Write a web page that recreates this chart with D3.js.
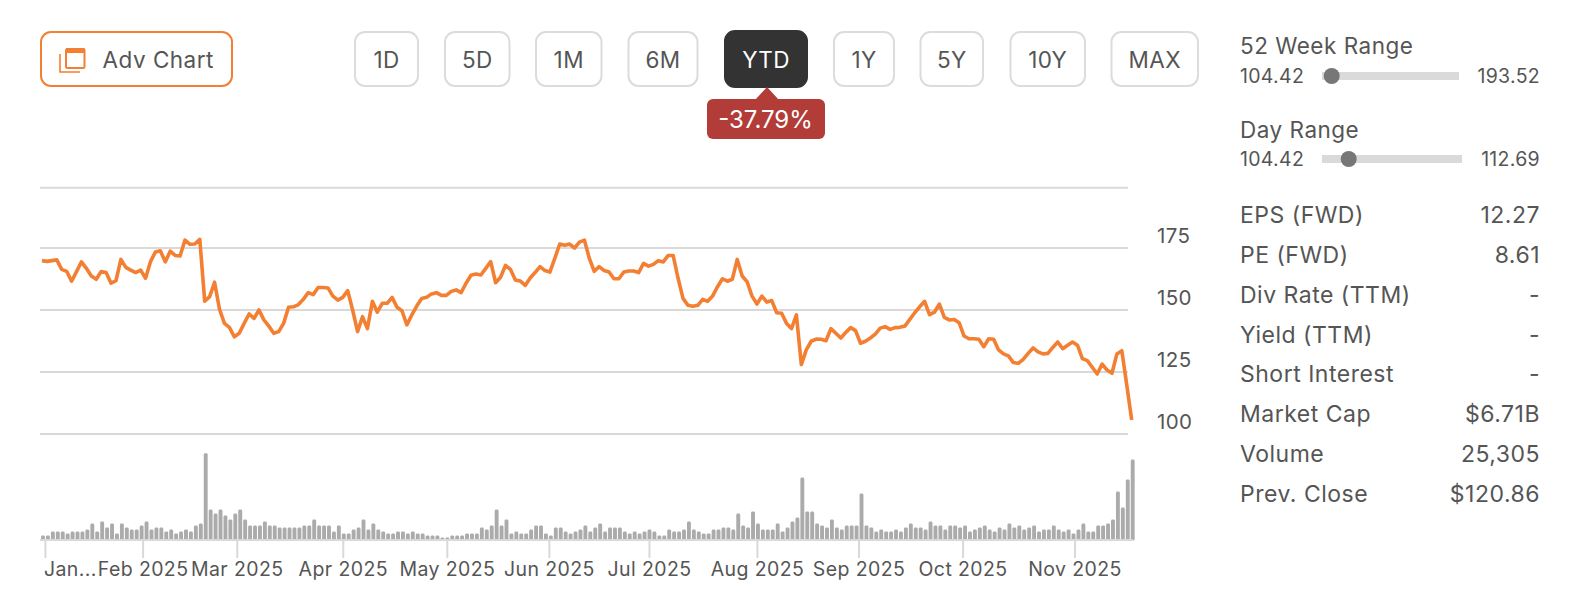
<!DOCTYPE html>
<html><head><meta charset="utf-8">
<script src="https://cdn.jsdelivr.net/npm/d3@7"></script>
<style>
html,body{margin:0;padding:0;background:#fff}
svg{display:block}
text{font-family:Inter,"Noto Sans",sans-serif;fill:#555}
</style></head><body>
<svg id="c" width="1572" height="608"></svg>
<script>
const closes = [169.9,169.6,169.9,170.2,166.4,165.6,161.6,165.5,169.4,166.8,163.7,162.4,165.5,165.1,160.8,161.8,170.4,167.2,166.1,165.1,
166.1,162.8,169.5,173.4,173.9,169.4,173.7,172.0,171.8,178.2,176.5,176.6,178.5,153.5,155.4,161.2,150.3,144.6,143.0,139.2,
140.6,144.6,148.4,146.6,150.0,146.0,143.5,140.6,141.3,144.6,151.1,151.3,152.2,154.3,157.0,156.2,159.1,159.1,158.9,155.6,
154.0,155.1,157.8,150.0,141.3,147.3,142.5,153.5,149.1,152.7,152.7,155.1,151.1,149.7,144.0,148.0,151.6,154.6,155.1,156.5,
157.0,155.9,155.9,157.5,158.1,157.0,160.8,164.0,164.5,164.1,166.8,169.5,161.0,163.2,168.0,166.4,162.1,161.7,159.9,162.9,
165.1,167.5,165.9,165.3,170.8,176.6,176.1,176.6,175.0,177.4,178.2,170.8,165.6,167.5,165.9,165.3,162.6,162.6,165.3,165.7,
165.7,165.1,168.8,167.7,168.4,169.9,169.4,172.0,172.0,162.8,154.7,151.9,151.5,151.9,154.3,153.5,155.6,159.4,162.6,161.6,
162.4,170.4,163.7,161.4,155.6,152.4,155.6,153.2,153.8,148.9,148.7,144.6,142.5,148.0,128.0,133.9,137.4,138.3,138.2,137.6,
142.5,140.6,138.7,140.9,142.9,141.7,136.6,137.4,138.7,140.3,142.7,143.3,142.2,142.9,143.0,143.5,146.2,148.9,151.3,153.5,
148.1,149.1,152.4,147.0,146.0,146.2,144.9,139.5,138.4,138.4,138.2,135.2,138.4,138.2,133.9,132.3,131.5,128.8,128.5,130.1,
132.5,134.7,133.1,132.3,132.5,134.9,137.1,134.4,135.8,137.1,135.8,130.4,129.6,126.9,124.2,128.2,125.8,124.5,132.3,133.6,
119.8,105.6];
const volumes = [12,12,24,24,24,18,24,24,24,30,48,24,54,36,48,18,48,36,30,30,
42,54,30,36,36,24,30,18,24,30,24,42,48,259,90,78,90,72,60,78,
90,60,42,42,42,54,42,42,36,36,36,36,36,42,42,60,42,42,42,24,
42,18,18,30,36,60,30,48,30,24,18,18,24,24,18,24,18,18,12,12,
12,6,6,12,12,12,18,18,18,36,30,42,90,42,60,18,24,18,18,30,
42,42,18,12,36,36,24,18,24,30,42,24,36,48,24,36,36,36,24,18,
24,18,24,30,24,12,12,30,24,24,30,54,30,24,18,18,30,30,36,36,
30,78,42,36,84,48,30,30,30,48,24,36,54,66,186,84,84,48,42,36,
60,36,30,42,42,42,138,42,36,24,30,24,24,30,24,36,48,36,36,30,
54,42,42,30,42,42,36,42,24,30,36,42,30,24,36,30,48,36,42,30,
36,42,24,30,30,42,30,24,30,18,30,48,24,24,42,42,48,60,144,96,
180,240];
const monthLabels = ["Jan...","Feb 2025","Mar 2025","Apr 2025","May 2025","Jun 2025","Jul 2025","Aug 2025","Sep 2025","Oct 2025","Nov 2025"];
const monthSessions = [0.6,20.4,39.5,61,82.1,102.8,123.1,145,165.6,186.7,209.4];
const gridValues = [100,125,150,175,199.3];
const priceTicks = [100,125,150,175];
const rangeButtons = ["1D","5D","1M","6M","YTD","1Y","5Y","10Y","MAX"];
const activeRange = "YTD";
const changeLabel = "-37.79%";
const statNames = ["EPS (FWD)","PE (FWD)","Div Rate (TTM)","Yield (TTM)","Short Interest","Market Cap","Volume","Prev. Close"];
const statValues = ["12.27","8.61","-","-","-","$6.71B","25,305","$120.86"];
const rangeNames = ["52 Week Range","Day Range"];
const rangeLows = [104.42,104.42];
const rangeHighs = [193.52,112.69];
const buttonEdges = [[354,419],[444,510.5],[535,602.5],[627.5,698.5],[724,808],[833,895],[919.5,984],[1009.5,1086],[1110.5,1199]];
const ORANGE="#f37f32", GRID="#d9d9d9", TXT="#555";
const svg=d3.select("#c");

/* chart */
const x=d3.scaleLinear().domain([0,closes.length-1]).range([42,1131.7]);
const y=d3.scaleLinear().domain([100,200]).range([434,186]);
const v=d3.scaleLinear().domain([0,259]).range([539.5,453.2]);
const plot=svg.append("g");
plot.selectAll("line.grid").data(gridValues).join("line").attr("class","grid")
  .attr("x1",40).attr("x2",1128).attr("y1",d=>y(d)).attr("y2",d=>y(d))
  .attr("stroke",GRID).attr("stroke-width",2);
const yAxis=d3.axisRight(y).tickValues(priceTicks).tickSize(0).tickPadding(0);
const yg=plot.append("g").attr("transform","translate(1157,0)").call(yAxis);
yg.select(".domain").remove();
yg.selectAll("text").attr("dy","-0.26em").attr("x",0).style("font-size","20.5px").style("letter-spacing","0.4px").style("fill",TXT);

plot.selectAll("rect.vol").data(volumes).join("rect").attr("class","vol")
  .attr("x",(d,i)=>x(i)+1-1.95).attr("width",3.9)
  .attr("y",d=>v(d)).attr("height",d=>v(0)-v(d)+1).attr("rx",1.4)
  .attr("fill","#ababab");

const xAxis=d3.axisBottom(x).tickValues(monthSessions).tickFormat((d,i)=>monthLabels[i]).tickSize(18).tickPadding(4);
const xg=plot.append("g").attr("transform","translate(0,540)").call(xAxis);
xg.select(".domain").remove();
xg.selectAll(".tick line").attr("stroke",GRID).attr("stroke-width",2);
xg.selectAll(".tick text").style("font-size","19.5px").style("letter-spacing","0.4px").style("fill",TXT);
xg.selectAll(".tick text").filter((d,i)=>i===0).attr("text-anchor","start").attr("x",-1.5);
plot.append("line").attr("x1",40).attr("x2",1133).attr("y1",540).attr("y2",540).attr("stroke",GRID).attr("stroke-width",2);

plot.append("path").datum(closes).attr("fill","none").attr("stroke",ORANGE).attr("stroke-width",3.6)
  .attr("stroke-linejoin","round").attr("d",d3.line().x((d,i)=>x(i)).y(d=>y(d)));

/* top buttons */
const bar=svg.append("g");
bar.append("rect").attr("x",41).attr("y",32).attr("width",191).attr("height",54).attr("rx",10)
  .attr("fill","#fff").attr("stroke",ORANGE).attr("stroke-width",2);
bar.append("rect").attr("x",66).attr("y",49).attr("width",18.5).attr("height",19).attr("rx",1.5)
  .attr("fill","none").attr("stroke",ORANGE).attr("stroke-width",2);
bar.append("rect").attr("x",66).attr("y",48).attr("width",18.5).attr("height",5).attr("fill",ORANGE);
bar.append("path").attr("d","M60 54V72H80").attr("fill","none").attr("stroke",ORANGE).attr("stroke-width",1.6);
bar.append("text").attr("x",102.5).attr("y",67.5).text("Adv Chart").style("font-size","22.5px").style("letter-spacing","0.5px");

const btn=bar.selectAll("g.btn").data(rangeButtons).join("g").attr("class","btn");
btn.append("rect").attr("x",(d,i)=>buttonEdges[i][0]+1).attr("y",d=>d===activeRange?31:32)
  .attr("width",(d,i)=>buttonEdges[i][1]-buttonEdges[i][0]-2).attr("height",d=>d===activeRange?56:54).attr("rx",10)
  .attr("fill",d=>d===activeRange?"#333":"#fff").attr("stroke",d=>d===activeRange?"#333":"#dcdcdc").attr("stroke-width",2);
btn.append("text").attr("x",(d,i)=>(buttonEdges[i][0]+buttonEdges[i][1])/2).attr("y",67.5).attr("text-anchor","middle")
  .text(d=>d).style("font-size","22.5px").style("letter-spacing","0.4px").style("fill",d=>d===activeRange?"#fff":TXT);

bar.append("path").attr("d","M767 87L779 100H755Z").attr("fill","#b23c38");
bar.append("rect").attr("x",707).attr("y",99).attr("width",118).attr("height",40).attr("rx",6).attr("fill","#b23c38");
bar.append("text").attr("x",765.5).attr("y",128).attr("text-anchor","middle").text(changeLabel)
  .style("font-size","24px").style("fill","#fff");

/* right panel */
const side=svg.append("g");
const sliderEdges=[[1322,1459],[1322,1462]], knobX=[1331.7,1348.7], nameY=[54,138], rowY=[83,166];
rangeNames.forEach((n,i)=>{
  side.append("text").attr("x",1240).attr("y",nameY[i]).text(n).style("font-size","22.5px").style("letter-spacing","0.5px");
  side.append("text").attr("x",1240).attr("y",rowY[i]).text(rangeLows[i].toFixed(2)).style("font-size","19.5px").style("letter-spacing","0.3px");
  side.append("text").attr("x",1540).attr("y",rowY[i]).attr("text-anchor","end").text(rangeHighs[i].toFixed(2)).style("font-size","19.5px").style("letter-spacing","0.3px");
  side.append("rect").attr("x",sliderEdges[i][0]).attr("y",rowY[i]-11).attr("width",sliderEdges[i][1]-sliderEdges[i][0]).attr("height",8).attr("fill","#dadada");
  side.append("circle").attr("cx",knobX[i]).attr("cy",rowY[i]-7).attr("r",8).attr("fill","#777");
});
const statY=d3.scalePoint().domain(statNames).range([223,502]);
side.selectAll("text.sn").data(statNames).join("text").attr("class","sn").attr("x",1240).attr("y",d=>statY(d)).text(d=>d)
  .style("font-size","23px").style("letter-spacing","0.5px");
side.selectAll("text.sv").data(statValues).join("text").attr("class","sv").attr("x",1540).attr("text-anchor","end")
  .attr("y",(d,i)=>statY(statNames[i])).text(d=>d).style("font-size","23px").style("letter-spacing","0.5px");
</script></body></html>
